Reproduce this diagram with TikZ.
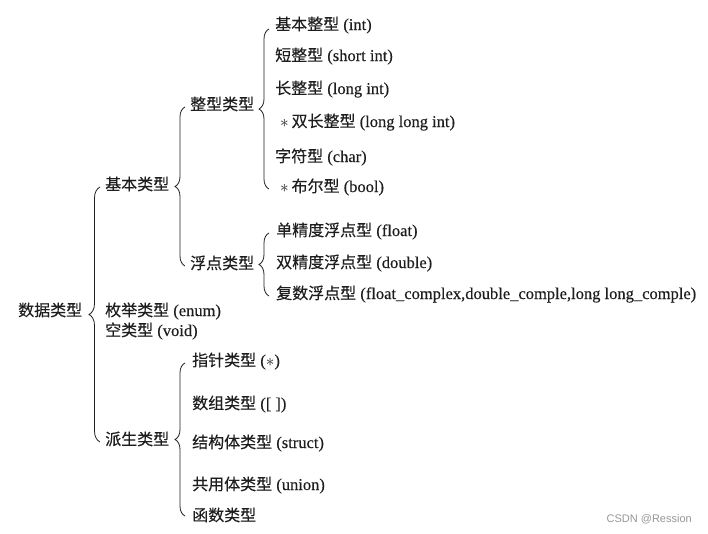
\documentclass[tikz,border=0pt]{standalone}
\usepackage{fontspec}
\setmainfont{Liberation Serif}[FakeBold=0.35]
\newfontfamily\cjk{Noto Sans CJK SC}[FakeBold=0.3]
\newfontfamily\wmfont{Liberation Sans}
\usetikzlibrary{decorations.pathreplacing}
\newcommand\zh[1]{{\cjk\fontsize{16}{18}\selectfont #1}}
\definecolor{ink}{RGB}{30,30,30}
\definecolor{wmgray}{RGB}{150,150,150}
\begin{document}
\begin{tikzpicture}[x=1pt,y=-1pt,
  lbl/.style={anchor=west,inner sep=0pt,text height=11pt,text depth=5pt,
              font=\fontsize{16.5}{18}\selectfont,text=ink},
  br/.style={decorate,decoration={brace,amplitude=#1},draw=ink,line width=0.8pt},
]
\useasboundingbox (0,0) rectangle (708,533);
% level 0
\node[lbl] (root) at (18,313) {\zh{数据类型}};
% level 1
\node[lbl] (jb)   at (105,187) {\zh{基本类型}};
\node[lbl] (enum) at (105,313) {\zh{枚举类型} (enum)};
\node[lbl] (void) at (105,333) {\zh{空类型} (void)};
\node[lbl] (ps)   at (105,442) {\zh{派生类型}};
% level 2
\node[lbl] (zx) at (190,107) {\zh{整型类型}};
\node[lbl] (fd) at (190,266) {\zh{浮点类型}};
% integer types
\node[lbl] (i1) at (275,27)  {\zh{基本整型} (int)};
\node[lbl] (i2) at (275,58)  {\zh{短整型} (short int)};
\node[lbl] (i3) at (275,91)  {\zh{长整型} (long int)};
\node[lbl] (i4) at (280,124) {$\ast$\,\zh{双长整型} (long long int)};
\node[lbl] (i5) at (275,159) {\zh{字符型} (char)};
\node[lbl] (i6) at (280,189) {$\ast$\,\zh{布尔型} (bool)};
% float types
\node[lbl] (f1) at (276,233) {\zh{单精度浮点型} (float)};
\node[lbl] (f2) at (276,265) {\zh{双精度浮点型} (double)};
\node[lbl] (f3) at (276,296) {\zh{复数浮点型} (float\_complex,double\_comple,long long\_comple)};
% derived types
\node[lbl] (d1) at (192,363) {\zh{指针类型} ($\ast$)};
\node[lbl] (d2) at (192,406) {\zh{数组类型} ([ ])};
\node[lbl] (d3) at (192,445) {\zh{结构体类型} (struct)};
\node[lbl] (d4) at (192,487) {\zh{共用体类型} (union)};
\node[lbl] (d5) at (192,518) {\zh{函数类型}};
% brace columns
\coordinate (b0) at (100,0);
\coordinate (b1) at (185,0);
\coordinate (b2) at (269,0);
% braces
\draw[br=11] (b0 |- ps.west) -- (b0 |- jb.west);
\draw[br=10] (b1 |- fd.west) -- (b1 |- zx.west);
\draw[br=10] (b2 |- i6.west) -- ([yshift=-2pt]b2 |- i1.west);
\draw[br=10] (b2 |- f3.west) -- (b2 |- f1.west);
\draw[br=10] ([yshift=2pt]b1 |- d5.west) -- (b1 |- d1.west);
% watermark
\node[anchor=east,inner sep=0pt,font=\wmfont\fontsize{11}{13}\selectfont,text=wmgray] (wm) at (692,519) {CSDN @Ression};
\end{tikzpicture}
\end{document}
